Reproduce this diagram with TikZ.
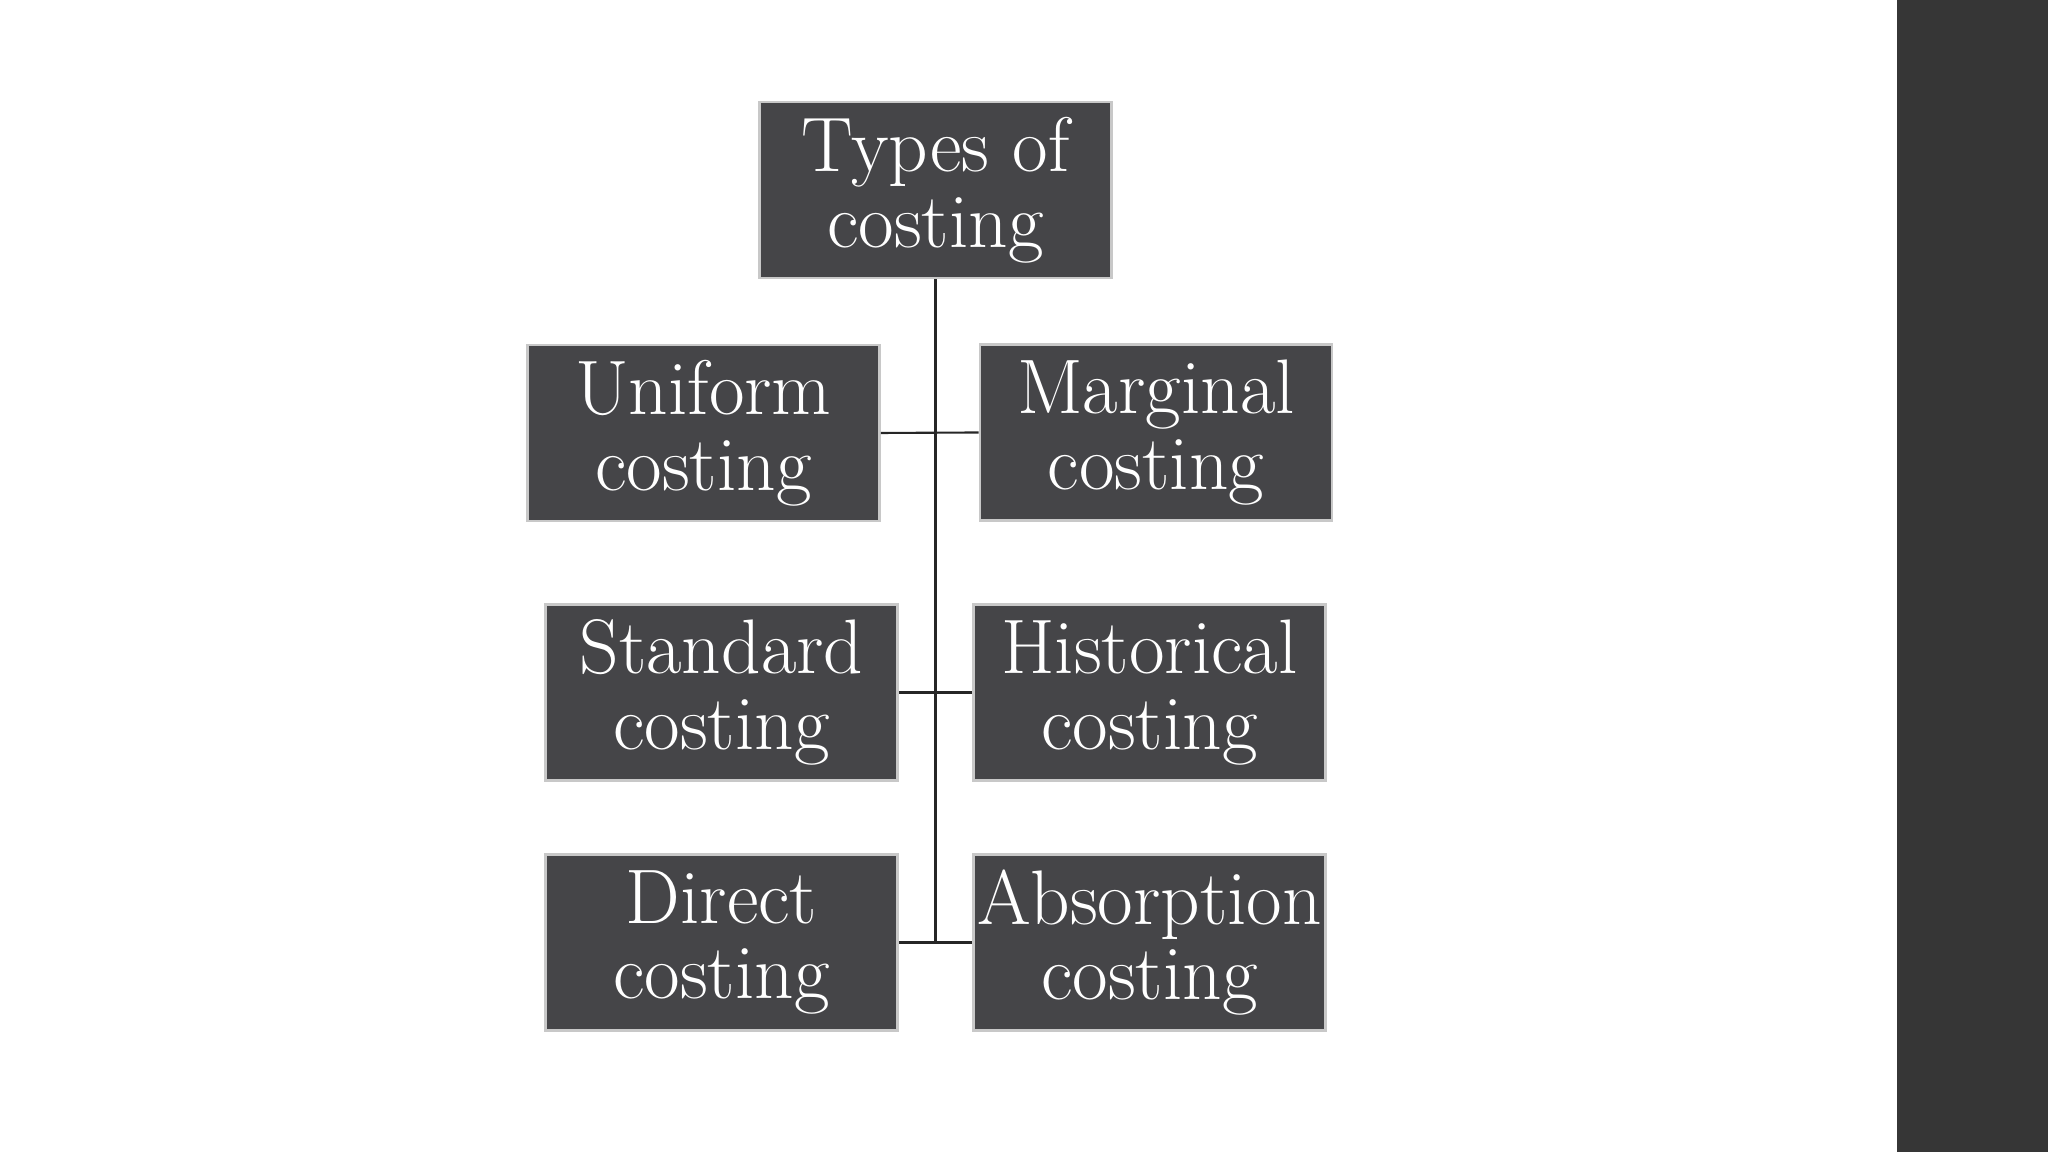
\documentclass[tikz,border=0pt]{standalone}
\usepackage{tikz}
\usetikzlibrary{positioning}

\definecolor{boxgray}{HTML}{454548}
\definecolor{barclr}{HTML}{363636}
\definecolor{rimgray}{HTML}{C8C8C8}

\begin{document}
\begin{tikzpicture}[
    costbox/.style={rectangle, draw=rimgray, line width=0.8pt, fill=boxgray, text=white, minimum width=3.52cm, minimum height=1.76cm, inner sep=0pt, align=center, font=\fontsize{22}{21.5}\selectfont},
    link/.style={draw=black!85, line width=0.6pt}
]
\useasboundingbox (0,0) rectangle (20.48,11.52);

% Side bar
\fill[barclr] (18.97,0) rectangle (20.48,11.52);

% Root
\node[costbox] (types) at (9.355,9.62) {Types of\\costing};

% Left column
\node[costbox] (uniform) at (7.035,7.19) {Uniform\\costing};
\node[costbox] (standard) at (7.215,4.595) {Standard\\costing};
\node[costbox] (direct) at (7.215,2.095) {Direct\\costing};

% Right column
\node[costbox] (marginal) at (11.56,7.195) {Marginal\\costing};
\node[costbox] (historical) at (11.495,4.595) {Historical\\costing};
\node[costbox] (absorption) at (11.495,2.095) {Absorption\\costing};

% Spine
\draw[link] (types.south) -- (types.south |- direct.east);

% Rows
\draw[link] (uniform.east) -- (marginal.west);
\draw[link] (standard.east) -- (historical.west);
\draw[link] (direct.east) -- (absorption.west);

\end{tikzpicture}
\end{document}
